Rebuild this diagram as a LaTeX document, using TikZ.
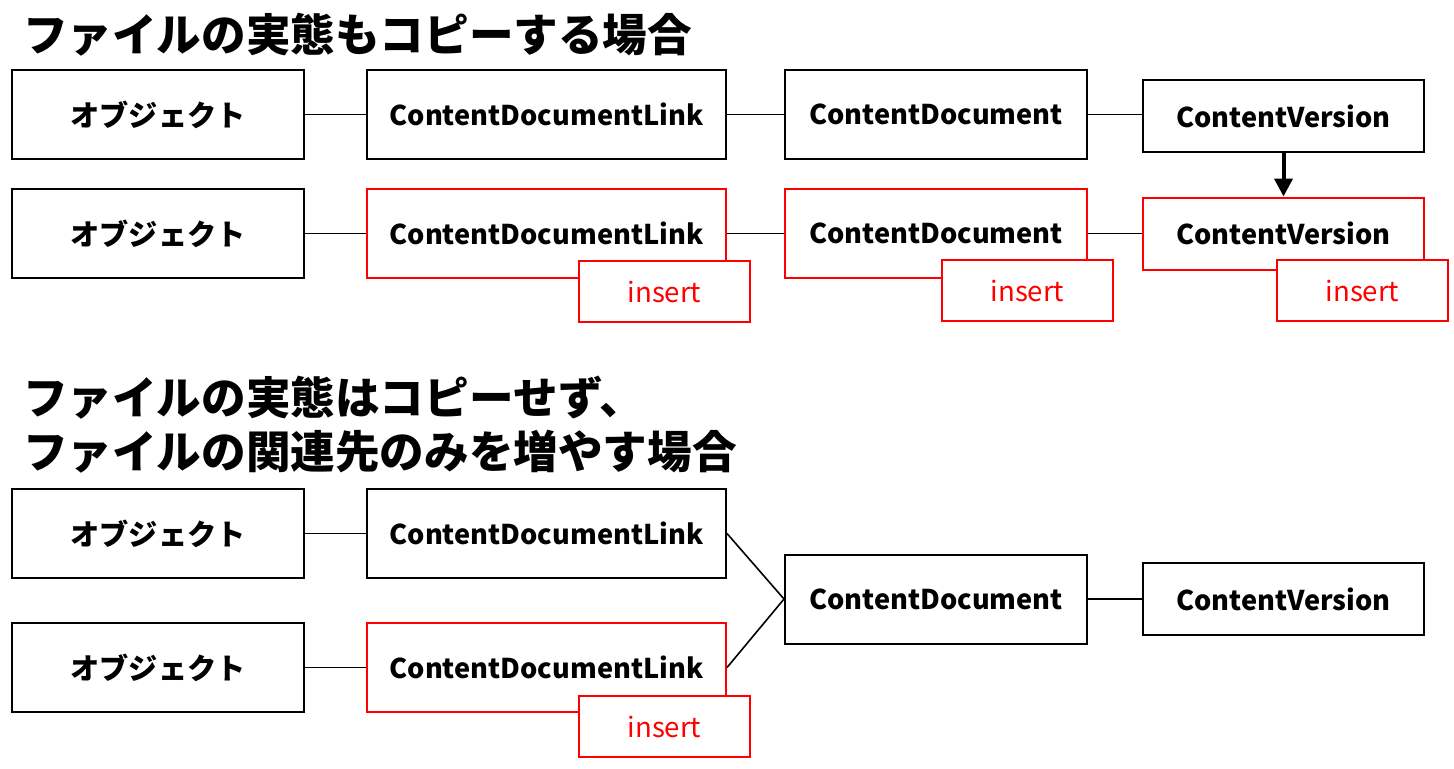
\documentclass[tikz,border=0pt]{standalone}
\usepackage{fontspec}
\setmainfont{Noto Sans CJK JP}
\usetikzlibrary{arrows.meta}

\begin{document}
\begin{tikzpicture}[x=0.5pt, y=-0.5pt,
    box/.style={draw, line width=1pt, rectangle, minimum height=44.5pt, font=\bfseries\fontsize{13.6}{16}\selectfont},
    objbox/.style={box, minimum width=146pt, font=\bfseries\fontsize{14.6}{16}\selectfont},
    linkbox/.style={box, minimum width=179.5pt},
    docbox/.style={box, minimum width=151pt},
    verbox/.style={box, minimum width=140.5pt, minimum height=36pt},
    newbox/.style={draw=red},
    insbox/.style={draw=red, line width=1pt, fill=white, text=red, minimum width=85.5pt, minimum height=30.5pt, font=\fontsize{13.8}{16}\selectfont},
    title/.style={anchor=west, align=left, font=\bfseries\fontsize{22.3}{27}\selectfont},
    conn/.style={line width=0.8pt}]
    \useasboundingbox (0,0) rectangle (1454,768);

    % Headers
    \node[title] (t1) at (16,35) {ファイルの実態もコピーする場合};
    \node[title] (t2) at (16,425) {ファイルの実態はコピーせず、\\ファイルの関連先のみを増やす場合};

    % -- first row
    \node[objbox] (obj1) at (158,114.5) {オブジェクト};
    \node[linkbox] (cdl1) at (546.5,114.5) {ContentDocumentLink};
    \node[docbox] (cd1) at (936,114.5) {ContentDocument};
    \node[verbox] (cv1) at (1283.5,116) {ContentVersion};

    % -- second row (copied)
    \node[objbox] (obj2) at (158,233.5) {オブジェクト};
    \node[linkbox, newbox] (cdl2) at (546.5,233.5) {ContentDocumentLink};
    \node[docbox, newbox] (cd2) at (936,233.5) {ContentDocument};
    \node[verbox, newbox] (cv2) at (1283.5,233.5) {ContentVersion};

    % Connectors
    \draw[conn] (obj1) -- (cdl1);
    \draw[conn] (cdl1) -- (cd1);
    \draw[conn] (cd1.east) -- (cd1.east -| cv1.west);
    \draw[conn] (obj2) -- (cdl2);
    \draw[conn] (cdl2) -- (cd2);
    \draw[conn] (cd2) -- (cv2);
    \draw[line width=2pt, -{Triangle[length=9pt, width=9pt]}] (cv1) -- (cv2);

    % Insert labels
    \node[insbox] (ins1) at (664.5,291.5) {insert};
    \node[insbox] (ins2) at (1027.5,290.5) {insert};
    \node[insbox] (ins3) at (1362.5,290.5) {insert};

    % -- lower diagram
    \node[objbox] (obj3) at (158,533.5) {オブジェクト};
    \node[linkbox] (cdl3) at (546.5,533.5) {ContentDocumentLink};
    \node[docbox] (cd3) at (936,599) {ContentDocument};
    \node[verbox] (cv3) at (1283.5,599) {ContentVersion};
    \node[objbox] (obj4) at (158,667.5) {オブジェクト};
    \node[linkbox, newbox] (cdl4) at (546.5,667.5) {ContentDocumentLink};

    \draw[conn] (obj3) -- (cdl3);
    \draw[conn] (cdl3.east) -- (cd3.west);
    \draw[conn] (cdl4.east) -- (cd3.west);
    \draw[conn] (cd3) -- (cv3);
    \draw[conn] (obj4) -- (cdl4);

    \node[insbox] (ins4) at (664.5,726.5) {insert};
\end{tikzpicture}
\end{document}
